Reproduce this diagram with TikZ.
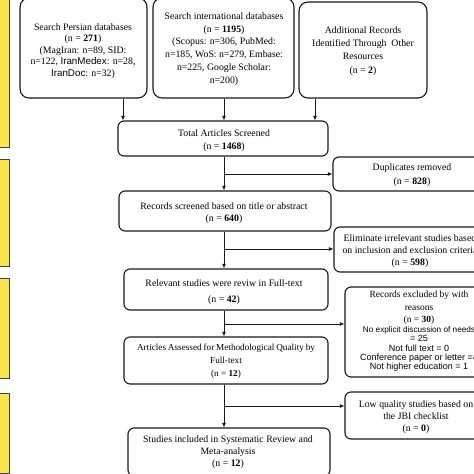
\documentclass[tikz,border=0pt]{standalone}
\usepackage{fontspec}
\setmainfont{Liberation Serif}
\newfontfamily\sansf{Liberation Sans}
\usetikzlibrary{arrows.meta}
\definecolor{strip}{RGB}{249,228,78}
\definecolor{ink}{RGB}{25,25,25}
\newcommand{\sline}{\sansf\fontsize{9}{9.2}\selectfont}
\tikzset{
  box/.style={draw=ink, line width=1.1pt, rounded corners=6pt, align=center,
    font=\fontsize{9.8}{12.2}\selectfont, inner sep=0pt, text=black},
  bigbox/.style={box, rounded corners=9pt},
  txt/.style={box, draw=none},
  arr/.style={draw=ink, line width=0.8pt, -{Latex[length=4.5pt,width=4pt]}},
  stripbox/.style={draw=black!75, line width=0.8pt, fill=strip}
}
\newcommand{\mkbox}[6]{% style, name, x1, y1, x2, y2
  \node[#1, minimum width={#5-#3}, minimum height={#6-#4}] (#2) at ({(#3+#5)/2},{(#4+#6)/2}) {};}
\begin{document}
\begin{tikzpicture}[x=1pt,y=-1pt]
\useasboundingbox (0,0) rectangle (474,474);
\clip (0,0) rectangle (474,474);
\fill[white] (0,0) rectangle (474,474);
% yellow strips at left edge
\draw[stripbox] (-5,-5) rectangle (9,147);
\draw[stripbox] (-5,159) rectangle (9,266);
\draw[stripbox] (-5,278) rectangle (9,378);
\draw[stripbox] (-5,393) rectangle (9,473);
% boxes
\mkbox{bigbox}{b1}{20}{-2}{147}{98}
\mkbox{bigbox}{b2}{153}{-2}{294}{98}
\mkbox{bigbox}{b3}{299}{2}{427}{98}
\mkbox{box}{total}{118}{121}{328}{156}
\mkbox{box}{dup}{333}{157}{500}{191}
\mkbox{box}{rec}{119}{191}{331}{231}
\mkbox{box}{elim}{334}{227}{512}{272}
\mkbox{box}{relv}{124}{269}{328}{310}
\mkbox{box}{excl}{345}{287}{494}{377}
\mkbox{box}{arts}{124}{337}{328}{384}
\mkbox{box}{low}{345}{392}{488}{439}
\mkbox{box}{stud}{128}{428}{330}{476}
% texts
\node[txt, font=\fontsize{9.8}{11.6}\selectfont] at (83,51) {Search Persian databases\\(n = \textbf{271})\\(MagIran: n=89, SID:\\n=122, \sansf IranMedex\rmfamily: n=28,\\\sansf IranDoc\rmfamily: n=32)};
\node[txt, font=\fontsize{9.8}{12.8}\selectfont] at (224,49) {Search international databases\\(n = \textbf{1195})\\(Scopus: n=306, PubMed:\\n=185, WoS: n=279, Embase:\\n=225, Google Scholar:\\n=200)};
\node[txt, font=\fontsize{9.8}{13.2}\selectfont] at (363,51) {Additional Records\\Identified Through\ \ Other\\Resources\\(n = \textbf{2})};
\node[txt, font=\fontsize{9.8}{13}\selectfont] at (224,141) {Total Articles Screened\\(n = \textbf{1468})};
\node[txt, font=\fontsize{9.8}{13.5}\selectfont] at (412,175) {Duplicates removed\\(n = \textbf{828})};
\node[txt, font=\fontsize{9.8}{12.5}\selectfont] at (224,213) {Records screened based on title or abstract\\(n = \textbf{640})};
\node[txt] at (410,251) {Eliminate irrelevant studies based\\on inclusion and exclusion criteria\\(n = \textbf{598})};
\node[txt, font=\fontsize{9.8}{15.5}\selectfont] at (224,292) {Relevant studies were reviw in Full-text\\(n = \textbf{42})};
\node[txt, anchor=north, font=\fontsize{9.5}{9.2}\selectfont] at (419,290) {Records excluded by with\\[4.5pt]reasons\\[2pt](n = \textbf{30})\\[1.5pt]\sansf\fontsize{8.2}{9.2}\selectfont No explicit discussion of needs\\\sline = 25\\\sline Not full text = 0\\\sline Conference paper or letter =4\\\sline Not higher education = 1};
\node[txt, font=\fontsize{9.2}{13}\selectfont] at (226,361) {\makebox[178pt][s]{Articles Assessed for Methodological Quality by}\\Full-text\\(n = \textbf{12})};
\node[txt, font=\fontsize{9.8}{12}\selectfont] at (416,417) {Low quality studies based on\\the JBI checklist\\(n = \textbf{0})};
\node[txt] at (228,452) {Studies included in Systematic Review and\\Meta-analysis\\(n = \textbf{12})};
% connectors
\coordinate (c1) at (123,0);
\coordinate (c2) at (224,0);
\coordinate (c3) at (315,0);
\draw[arr] (b1.south -| c1) -- (total.north -| c1);
\draw[arr] (b2.south -| c2) -- (total.north -| c2);
\draw[arr] (b3.south -| c3) -- (total.north -| c3);
\draw[arr] (total.south -| c2) -- (rec.north -| c2);
\draw[arr] (rec.south -| c2) -- (relv.north -| c2);
\draw[arr] (relv.south -| c2) -- (arts.north -| c2);
\draw[arr] (arts.south -| c2) -- (stud.north -| c2);
\coordinate (j1) at (224,174);
\coordinate (j2) at (224,249);
\coordinate (j3) at (224,324);
\coordinate (j4) at (224,406);
\draw[arr] (j1) -- (dup.west |- j1);
\draw[arr] (j2) -- (elim.west |- j2);
\draw[arr] (j3) -- (excl.west |- j3);
\draw[arr] (j4) -- (low.west |- j4);
\end{tikzpicture}
\end{document}
